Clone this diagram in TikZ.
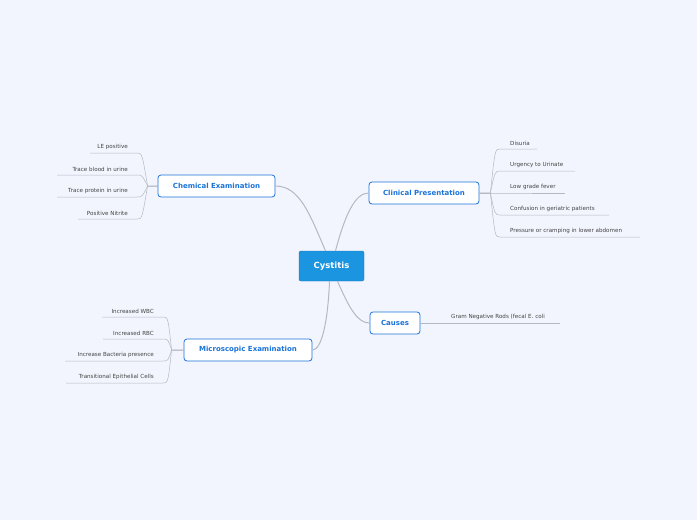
\documentclass[tikz,border=0pt]{standalone}
\usepackage{fontspec}
\setmainfont{DejaVu Sans}
\definecolor{bg}{HTML}{F2F5FD}
\definecolor{mainblue}{HTML}{1C95E1}
\definecolor{txtblue}{HTML}{1A73D9}
\definecolor{ln}{HTML}{B4B8C0}
\definecolor{leaftxt}{HTML}{444444}
\begin{document}
\begin{tikzpicture}[x=1pt,y=-1pt,
  central/.style={draw=mainblue!80!black,fill=mainblue,rounded corners=2pt,text=white,font=\fontsize{8.5}{10}\selectfont\bfseries,minimum width=65pt,minimum height=30pt,inner sep=0pt},
  branch/.style={draw=txtblue,fill=white,rounded corners=3pt,line width=0.8pt,text=txtblue,font=\fontsize{7}{8}\selectfont\bfseries,minimum height=22pt,inner sep=0pt},
  leaf/.style={text=leaftxt,font=\fontsize{5.6}{7}\selectfont,inner sep=0pt},
  conn/.style={draw=ln,line width=1pt},
  lconn/.style={draw=ln,line width=0.5pt}]
\useasboundingbox[fill=bg] (0,0) rectangle (697,520);
\node[central] (c) at (331.5,266) {Cystitis};
\node[branch,minimum width=117pt] (chem) at (216.5,186) {Chemical Examination};
\node[branch,minimum width=110pt] (clin) at (424,193) {Clinical Presentation};
\node[branch,minimum width=50pt] (caus) at (395,323) {Causes};
\node[branch,minimum width=128pt] (micr) at (248,350) {Microscopic Examination};
\draw[conn] (c.north) ++(-6,0) coordinate (c1) .. controls (310,215) and (300,186) .. (chem.east);
\draw[conn] (c.north) ++(4,0) coordinate (c2) .. controls (345,215) and (355,193) .. (clin.west);
\draw[conn] (c.south) ++(6,0) coordinate (c3) .. controls (350,310) and (358,323) .. (caus.west);
\draw[conn] (c.south) ++(-2,0) coordinate (c4) .. controls (328,320) and (322,350) .. (micr.east);
% chemical leaves
\foreach \t/\y/\l [count=\i] in {LE positive/153/90,Trace blood in urine/175/57,Trace protein in urine/197/57,Positive Nitrite/219/78}{
  \node[leaf,anchor=south east] (ch\i) at (128,\y-3) {\t};
  \coordinate (chu\i) at (\l,\y);
  \draw[lconn] (chem.west) -- ++(-10,0) .. controls (142,\y) and (142,\y) .. (137,\y) -- (chu\i);
}
% microscopic leaves
\foreach \t/\y/\l [count=\i] in {Increased WBC/317/102,Increased RBC/339/103,Increase Bacteria presence/361/65,Transitional Epithelial Cells/383/66}{
  \node[leaf,anchor=south east] (mi\i) at (154,\y-3) {\t};
  \coordinate (miu\i) at (\l,\y);
  \draw[lconn] (micr.west) -- ++(-12,0) .. controls (168,\y) and (168,\y) .. (163,\y) -- (miu\i);
}
% clinical leaves
\foreach \t/\y/\r [count=\i] in {Disuria/149/537,Urgency to Urinate/171/575,Low grade fever/193/565,Confusion in geriatric patients/215/609,Pressure or cramping in lower abdomen/237/640}{
  \node[leaf,anchor=south west] (cl\i) at (510,\y-3) {\t};
  \coordinate (clu\i) at (\r,\y);
  \draw[lconn] (clin.east) -- ++(11,0) .. controls (495,\y) and (495,\y) .. (500,\y) -- (clu\i);
}
% causes leaf
\node[leaf,anchor=south west] (ca1) at (451,320) {Gram Negative Rods (fecal E. coli};
\coordinate (cau1) at (560,323);
\draw[lconn] (caus.east) -- (cau1);
\end{tikzpicture}
\end{document}
